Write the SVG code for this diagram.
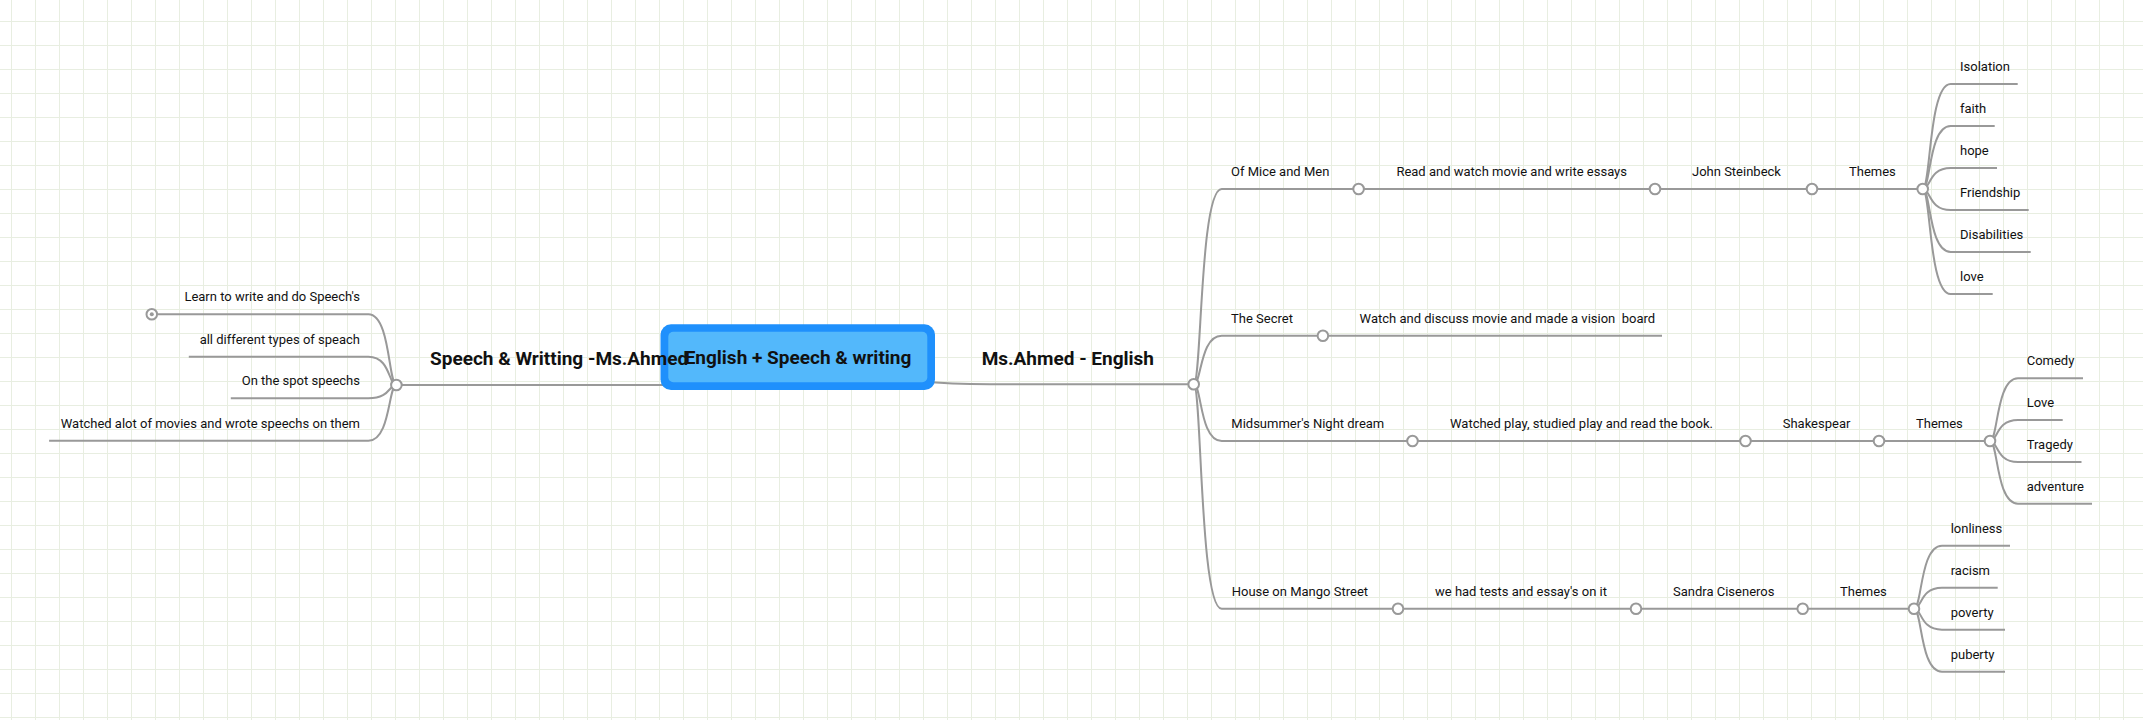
<svg xmlns="http://www.w3.org/2000/svg" width="2143" height="720" viewBox="0 0 2143 720">
<defs>
<pattern id="grid" x="11" y="21" width="24" height="24" patternUnits="userSpaceOnUse">
<rect width="24" height="1" fill="#e8eee1"/>
<rect width="1" height="24" fill="#e8eee1"/>
</pattern>
<style>
.c{fill:none;stroke:#999;stroke-width:2}
.k{fill:#fff;stroke:#999;stroke-width:2}
.t{font-family:Roboto,"Liberation Sans",sans-serif;font-size:13px;fill:#111}
.e{text-anchor:end}
.b{font-family:Roboto,"Liberation Sans",sans-serif;font-size:19px;font-weight:bold;fill:#111}
</style>
</defs>
<rect width="2143" height="720" fill="#fff"/>
<rect width="2143" height="720" fill="url(#grid)"/>

<g id="connectors">
<path class="c" d="M700 385 H396.4"/>
<path class="c" d="M920 381 Q950 384.3 990 384.3 H1193.7"/>
<path class="c" d="M396.4 385 C388.4 385 390.4 314.3 368.4 314.3 H158"/>
<path class="c" d="M396.4 385 C388.4 385 390.4 356.7 368.4 356.7 H188.8"/>
<path class="c" d="M396.4 385 C388.4 385 390.4 398.3 368.4 398.3 H230.8"/>
<path class="c" d="M396.4 385 C388.4 385 390.4 440.7 368.4 440.7 H49.1"/>
<path class="c" d="M1193.7 384.3 C1201.7 384.3 1199.7 189 1221.7 189 H1922.7"/>
<path class="c" d="M1193.7 384.3 C1201.7 384.3 1199.7 335.7 1221.7 335.7 H1662"/>
<path class="c" d="M1193.7 384.3 C1201.7 384.3 1199.7 441 1221.7 441 H1990"/>
<path class="c" d="M1193.7 384.3 C1201.7 384.3 1199.7 608.7 1221.7 608.7 H1914"/>
<path class="c" d="M1922.7 189 C1930.7 189 1928.7 84 1950.7 84 H2017.7"/>
<path class="c" d="M1922.7 189 C1930.7 189 1928.7 126 1950.7 126 H1994.7"/>
<path class="c" d="M1922.7 189 C1930.7 189 1928.7 168 1950.7 168 H1997"/>
<path class="c" d="M1922.7 189 C1930.7 189 1928.7 210 1950.7 210 H2028.7"/>
<path class="c" d="M1922.7 189 C1930.7 189 1928.7 252 1950.7 252 H2030.7"/>
<path class="c" d="M1922.7 189 C1930.7 189 1928.7 294 1950.7 294 H1992.7"/>
<path class="c" d="M1990 441 C1998 441 1996 378.3 2018 378.3 H2083"/>
<path class="c" d="M1990 441 C1998 441 1996 420 2018 420 H2062.7"/>
<path class="c" d="M1990 441 C1998 441 1996 462 2018 462 H2081.5"/>
<path class="c" d="M1990 441 C1998 441 1996 503.7 2018 503.7 H2092"/>
<path class="c" d="M1914 608.7 C1922 608.7 1920 545.7 1942 545.7 H2010"/>
<path class="c" d="M1914 608.7 C1922 608.7 1920 587.7 1942 587.7 H1997.7"/>
<path class="c" d="M1914 608.7 C1922 608.7 1920 629.7 1942 629.7 H2005"/>
<path class="c" d="M1914 608.7 C1922 608.7 1920 671.7 1942 671.7 H2005"/>
</g>

<g id="n-root">
<rect x="660.5" y="324.3" width="274.5" height="65.7" rx="10.5" fill="#1f90fc"/>
<rect x="668.3" y="331.7" width="259" height="50.5" rx="5" fill="#53b8fb"/>
</g>

<g id="n-speech">
<text class="b" x="430" y="365">Speech &amp; Writting -Ms.Ahmed</text>
<circle class="k" cx="396.4" cy="385" r="5.3"/>
</g>
<g id="n-root-label">
<text class="b" x="798" y="363.5" text-anchor="middle">English + Speech &amp; writing</text>
</g>

<g id="n-english">
<text class="b" x="981.7" y="364.5">Ms.Ahmed - English</text>
<circle class="k" cx="1193.7" cy="384.3" r="5.3"/>
</g>

<g id="n-learn">
<text class="t e" x="360" y="301.3">Learn to write and do Speech's</text>
<circle class="k" cx="151.8" cy="314.3" r="5.3"/>
<circle cx="151.8" cy="314.3" r="2" fill="#999"/>
</g>
<g id="n-types"><text class="t e" x="360" y="343.7">all different types of speach</text></g>
<g id="n-spot"><text class="t e" x="360" y="385.3">On the spot speechs</text></g>
<g id="n-movies"><text class="t e" x="360" y="427.7">Watched alot of movies and wrote speechs on them</text></g>

<g id="n-mice">
<text class="t" x="1231" y="176">Of Mice and Men</text>
<circle class="k" cx="1358.6" cy="189" r="5.3"/>
</g>
<g id="n-mice-act">
<text class="t" x="1396.4" y="176">Read and watch movie and write essays</text>
<circle class="k" cx="1655" cy="189" r="5.3"/>
</g>
<g id="n-steinbeck">
<text class="t" x="1692" y="176">John Steinbeck</text>
<circle class="k" cx="1812" cy="189" r="5.3"/>
</g>
<g id="n-mice-themes">
<text class="t" x="1849" y="176">Themes</text>
<circle class="k" cx="1922.7" cy="189" r="5.3"/>
</g>
<g id="n-isolation"><text class="t" x="1960" y="71">Isolation</text></g>
<g id="n-faith"><text class="t" x="1960" y="113">faith</text></g>
<g id="n-hope"><text class="t" x="1960" y="155">hope</text></g>
<g id="n-friendship"><text class="t" x="1960" y="197">Friendship</text></g>
<g id="n-disabilities"><text class="t" x="1960" y="239">Disabilities</text></g>
<g id="n-love1"><text class="t" x="1960" y="281">love</text></g>

<g id="n-secret">
<text class="t" x="1231" y="322.7">The Secret</text>
<circle class="k" cx="1322.9" cy="335.7" r="5.3"/>
</g>
<g id="n-secret-act"><text class="t" x="1359.6" y="322.7" xml:space="preserve" style="white-space:pre">Watch and discuss movie and made a vision  board</text></g>

<g id="n-mid">
<text class="t" x="1231.3" y="428">Midsummer's Night dream</text>
<circle class="k" cx="1412.5" cy="441" r="5.3"/>
</g>
<g id="n-mid-act">
<text class="t" x="1450" y="428">Watched play, studied play and read the book.</text>
<circle class="k" cx="1745.5" cy="441" r="5.3"/>
</g>
<g id="n-shakespear">
<text class="t" x="1782.7" y="428">Shakespear</text>
<circle class="k" cx="1879" cy="441" r="5.3"/>
</g>
<g id="n-mid-themes">
<text class="t" x="1916" y="428">Themes</text>
<circle class="k" cx="1990" cy="441" r="5.3"/>
</g>
<g id="n-comedy"><text class="t" x="2026.7" y="365.3">Comedy</text></g>
<g id="n-love2"><text class="t" x="2026.7" y="407">Love</text></g>
<g id="n-tragedy"><text class="t" x="2026.7" y="449">Tragedy</text></g>
<g id="n-adventure"><text class="t" x="2026.7" y="490.7">adventure</text></g>

<g id="n-mango">
<text class="t" x="1231.7" y="595.7">House on Mango Street</text>
<circle class="k" cx="1398" cy="608.7" r="5.3"/>
</g>
<g id="n-mango-act">
<text class="t" x="1435" y="595.7">we had tests and essay's on it</text>
<circle class="k" cx="1636" cy="608.7" r="5.3"/>
</g>
<g id="n-sandra">
<text class="t" x="1673" y="595.7">Sandra Ciseneros</text>
<circle class="k" cx="1802.7" cy="608.7" r="5.3"/>
</g>
<g id="n-mango-themes">
<text class="t" x="1840" y="595.7">Themes</text>
<circle class="k" cx="1914" cy="608.7" r="5.3"/>
</g>
<g id="n-lonliness"><text class="t" x="1950.7" y="532.7">lonliness</text></g>
<g id="n-racism"><text class="t" x="1950.7" y="574.7">racism</text></g>
<g id="n-poverty"><text class="t" x="1950.7" y="616.7">poverty</text></g>
<g id="n-puberty"><text class="t" x="1950.7" y="658.7">puberty</text></g>
</svg>
